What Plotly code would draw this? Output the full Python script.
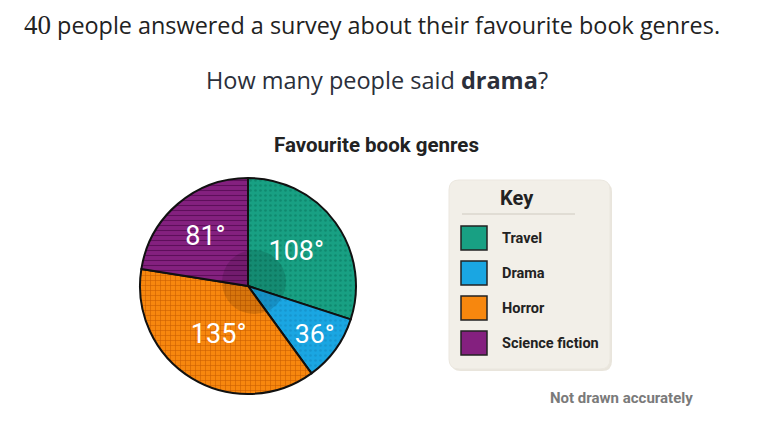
import plotly.graph_objects as go

genres = ["Travel", "Drama", "Horror", "Science fiction"]
angles = [108, 36, 135, 81]
colors = ["#18a083", "#1aa6e2", "#f7870e", "#84207f"]
pattern_fg = ["#0f8a6f", "#1696d0", "#c95f02", "#5e0f5b"]
pattern_shapes = [".", ".", "+", "-"]

OFF = 8  # page body margin
W, H = 775 - 2 * OFF, 444 - 2 * OFF
def px(x): return (x - OFF) / W
def py(y): return 1 - (y - OFF) / H

cx, cy, r = 248, 286, 108

fig = go.Figure()
fig.add_trace(go.Pie(
    labels=genres,
    values=angles,
    text=[f"{a}°" for a in angles],
    textinfo="text",
    textposition="inside",
    insidetextorientation="horizontal",
    sort=False,
    direction="clockwise",
    rotation=0,
    showlegend=False,
    hoverinfo="label+value",
    marker=dict(
        colors=colors,
        line=dict(color="#111111", width=2),
        pattern=dict(shape=pattern_shapes, fgcolor=pattern_fg, bgcolor=colors,
                     size=5, solidity=0.22, fillmode="replace"),
    ),
    textfont=dict(family="Roboto, sans-serif", size=27, color="white"),
    domain=dict(x=[px(cx - r), px(cx + r)], y=[py(cy + r), py(cy - r)]),
))

shapes = []
# central shadow
shapes.append(dict(type="circle", xref="paper", yref="paper",
                   x0=px(222), x1=px(286), y0=py(314), y1=py(250),
                   fillcolor="rgba(0,0,0,0.13)", line=dict(width=0), layer="above"))

# key box with rounded corners
def rounded(x0, y0, x1, y1, rr):
    X0, X1 = px(x0), px(x1)
    Y0, Y1 = py(y0), py(y1)
    rx, ry = rr / W, rr / H
    return (f"M {X0+rx},{Y0} L {X1-rx},{Y0} Q {X1},{Y0} {X1},{Y0-ry} "
            f"L {X1},{Y1+ry} Q {X1},{Y1} {X1-rx},{Y1} L {X0+rx},{Y1} "
            f"Q {X0},{Y1} {X0},{Y1+ry} L {X0},{Y0-ry} Q {X0},{Y0} {X0+rx},{Y0} Z")

shapes.append(dict(type="path", xref="paper", yref="paper",
                   path=rounded(451, 182, 612, 371, 10),
                   fillcolor="#e9e5dc", line=dict(width=0), layer="below"))
shapes.append(dict(type="path", xref="paper", yref="paper",
                   path=rounded(449, 180, 610, 369, 10),
                   fillcolor="#f2efe8", line=dict(color="#ebe7df", width=1), layer="below"))
shapes.append(dict(type="line", xref="paper", yref="paper",
                   x0=px(462), x1=px(575), y0=py(214), y1=py(214),
                   line=dict(color="#cfcac0", width=1)))

annotations = []
lab_font = "Roboto, sans-serif"
for i, (g, c) in enumerate(zip(genres, colors)):
    yc = 238 + i * 35
    shapes.append(dict(type="rect", xref="paper", yref="paper",
                       x0=px(461), x1=px(487), y0=py(yc + 12), y1=py(yc - 12),
                       fillcolor=c, line=dict(color="#222222", width=1.5)))
    annotations.append(dict(text=f"<b>{g}</b>", x=px(500), y=py(yc), xref="paper", yref="paper",
                            xanchor="left", yanchor="middle", showarrow=False,
                            font=dict(family=lab_font, size=14.5, color="#222222")))

def note(text, x, y, size, color, family=lab_font, xanchor="center"):
    return dict(text=text, x=px(x), y=py(y), xref="paper", yref="paper",
                xanchor=xanchor, yanchor="middle", showarrow=False,
                font=dict(family=family, size=size, color=color))

annotations += [
    note("<b>Key</b>", 517, 198, 20, "#222222"),
    note("<b>Favourite book genres</b>", 376, 145, 20.5, "#222222"),
    note("<b>Not drawn accurately</b>", 621, 398, 15, "#7a7a7a"),
    note("<span style='font-family:Liberation Serif, DejaVu Serif, serif;font-size:27px'>40</span>"
         " people answered a survey about their favourite book genres.", 22, 25, 23.4,
         "#222222", family="Open Sans, sans-serif", xanchor="left"),
    note("How many people said <b>drama</b>?", 377, 80, 23.5, "#2b2f3a",
         family="Open Sans, sans-serif"),
]

fig.update_layout(
    width=W, height=H, autosize=False,
    margin=dict(l=0, r=0, t=0, b=0),
    paper_bgcolor="white", plot_bgcolor="white",
    shapes=shapes, annotations=annotations,
)
fig.write_html("out.html")
